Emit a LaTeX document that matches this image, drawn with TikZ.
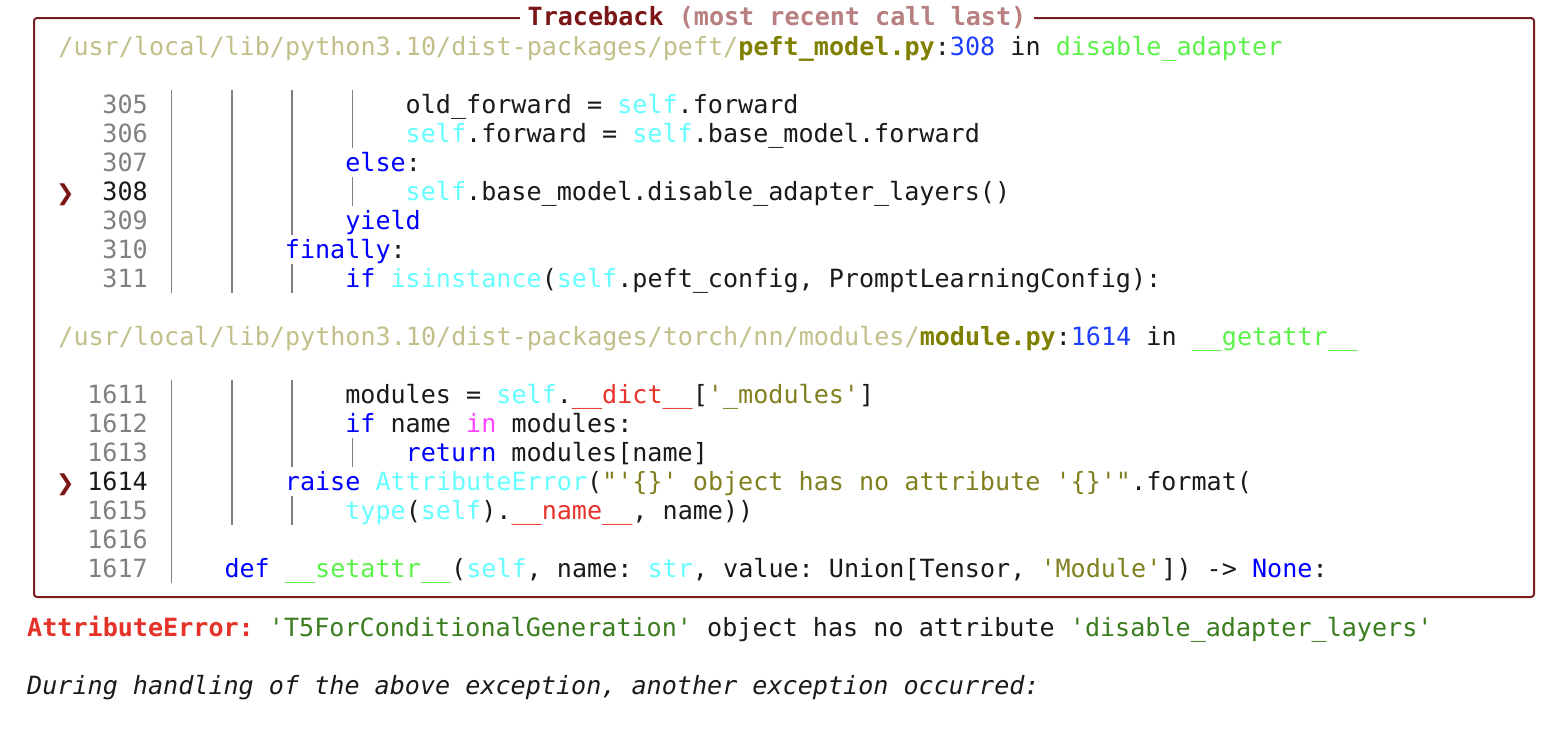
\documentclass[tikz,border=0pt]{standalone}
\usepackage{fontspec}
\setmonofont{DejaVu Sans Mono}
\newfontfamily\djs{DejaVu Sans}
\definecolor{bord}{HTML}{7A1F1F}
\definecolor{ttl}{HTML}{7A1616}
\definecolor{ttl2}{HTML}{B88080}
\definecolor{pathc}{HTML}{C2C08A}
\definecolor{filec}{HTML}{808000}
\definecolor{numc}{HTML}{1F3FFF}
\definecolor{fnc}{HTML}{5CF24A}
\definecolor{cyc}{HTML}{66FFFF}
\definecolor{kwc}{HTML}{0000FF}
\definecolor{magc}{HTML}{FF44FF}
\definecolor{redc}{HTML}{E8322A}
\definecolor{olc}{HTML}{808020}
\definecolor{errc}{HTML}{E53228}
\definecolor{msgc}{HTML}{3A7D1E}
\definecolor{gray}{HTML}{808080}
\definecolor{txt}{HTML}{1A1A1A}
\newcommand\cy[1]{\textcolor{cyc}{#1}}
\newcommand\kw[1]{\textcolor{kwc}{#1}}
\newcommand\rd[1]{\textcolor{redc}{#1}}
\newcommand\ol[1]{\textcolor{olc}{#1}}
\newcommand\gr[1]{\textcolor{msgc}{#1}}
\tikzset{mono/.style={font=\ttfamily\fontsize{25.1}{29}\selectfont,inner sep=0pt,text=txt},
 guide/.style={draw=gray,line width=1.6pt}}
\newcommand\Gd[2]{\foreach \c in {#2} \draw[guide] ({28+(\c+0.5)*15.1},{#1-14.5}) -- ++(0,29);}
\newcommand\Tx[3]{\node[mono,anchor=base west] at ({28+#2*15.1},{#1+9}) {#3};}
\newcommand\Ln[2]{\node[mono,anchor=base east,text=gray] at (148,{#1+9}) {#2};}
\begin{document}
\begin{tikzpicture}[x=1pt,y=-1pt]
\useasboundingbox[fill=white] (0,0) rectangle (1564,732);
\draw[bord,line width=2pt,rounded corners=3pt] (34,18) rectangle (1534,597);
\node[mono,fill=white,inner xsep=8pt,font=\ttfamily\bfseries\fontsize{25.1}{29}\selectfont] (title) at (777,18) {\textcolor{ttl}{Traceback} \textcolor{ttl2}{(most recent call last)}};
% header 1
\Tx{46}{2}{\textcolor{pathc}{/usr/local/lib/python3.10/dist-packages/peft/}\textcolor{filec}{\bfseries peft\_model.py}:\textcolor{numc}{308} in \textcolor{fnc}{disable\_adapter}}
\Ln{104}{305}\Gd{104}{9,13,17,21}\Tx{104}{25}{old\_forward = \cy{self}.forward}
\Ln{133}{306}\Gd{133}{9,13,17,21}\Tx{133}{25}{\cy{self}.forward = \cy{self}.base\_model.forward}
\Ln{162}{307}\Gd{162}{9,13,17}\Tx{162}{21}{\kw{else}:}
\node[font=\djs\bfseries\fontsize{22}{29}\selectfont,text=ttl,anchor=base west,inner sep=0pt] (m1) at (56,200) {❯};
\node[mono,anchor=base east] at (148,200) {308};
\Gd{191}{9,13,17,21}\Tx{191}{25}{\cy{self}.base\_model.disable\_adapter\_layers()}
\Ln{220}{309}\Gd{220}{9,13,17}\Tx{220}{21}{\kw{yield}}
\Ln{249}{310}\Gd{249}{9,13}\Tx{249}{17}{\kw{finally}:}
\Ln{278}{311}\Gd{278}{9,13,17}\Tx{278}{21}{\kw{if} \cy{isinstance}(\cy{self}.peft\_config, PromptLearningConfig):}
% header 2
\Tx{336}{2}{\textcolor{pathc}{/usr/local/lib/python3.10/dist-packages/torch/nn/modules/}\textcolor{filec}{\bfseries module.py}:\textcolor{numc}{1614} in \textcolor{fnc}{\_\_getattr\_\_}}
\Ln{394}{1611}\Gd{394}{9,13,17}\Tx{394}{21}{modules = \cy{self}.\rd{\_\_dict\_\_}[\ol{'\_modules'}]}
\Ln{423}{1612}\Gd{423}{9,13,17}\Tx{423}{21}{\kw{if} name \textcolor{magc}{in} modules:}
\Ln{452}{1613}\Gd{452}{9,13,17,21}\Tx{452}{25}{\kw{return} modules[name]}
\node[font=\djs\bfseries\fontsize{22}{29}\selectfont,text=ttl,anchor=base west,inner sep=0pt] (m2) at (56,490) {❯};
\node[mono,anchor=base east] at (148,490) {1614};
\Gd{481}{9,13}\Tx{481}{17}{\kw{raise} \cy{AttributeError}(\ol{"'\{\}' object has no attribute '\{\}'"}.format(}
\Ln{510}{1615}\Gd{510}{9,13,17}\Tx{510}{21}{\cy{type}(\cy{self}).\rd{\_\_name\_\_}, name))}
\Ln{539}{1616}\Gd{539}{9}
\Ln{568}{1617}\Gd{568}{9}\Tx{568}{13}{\kw{def} \textcolor{fnc}{\_\_setattr\_\_}(\cy{self}, name: \cy{str}, value: Union[Tensor, \ol{'Module'}]) -> \kw{None}:}
% error
\node[mono,anchor=base west] (err) at (27,636) {\textcolor{errc}{\bfseries AttributeError:} \gr{'T5ForConditionalGeneration'} object has no attribute \gr{'disable\_adapter\_layers'}};
\node[mono,anchor=base west,font=\ttfamily\itshape\fontsize{25.1}{29}\selectfont] (dur) at (27,694) {During handling of the above exception, another exception occurred:};
\end{tikzpicture}
\end{document}
